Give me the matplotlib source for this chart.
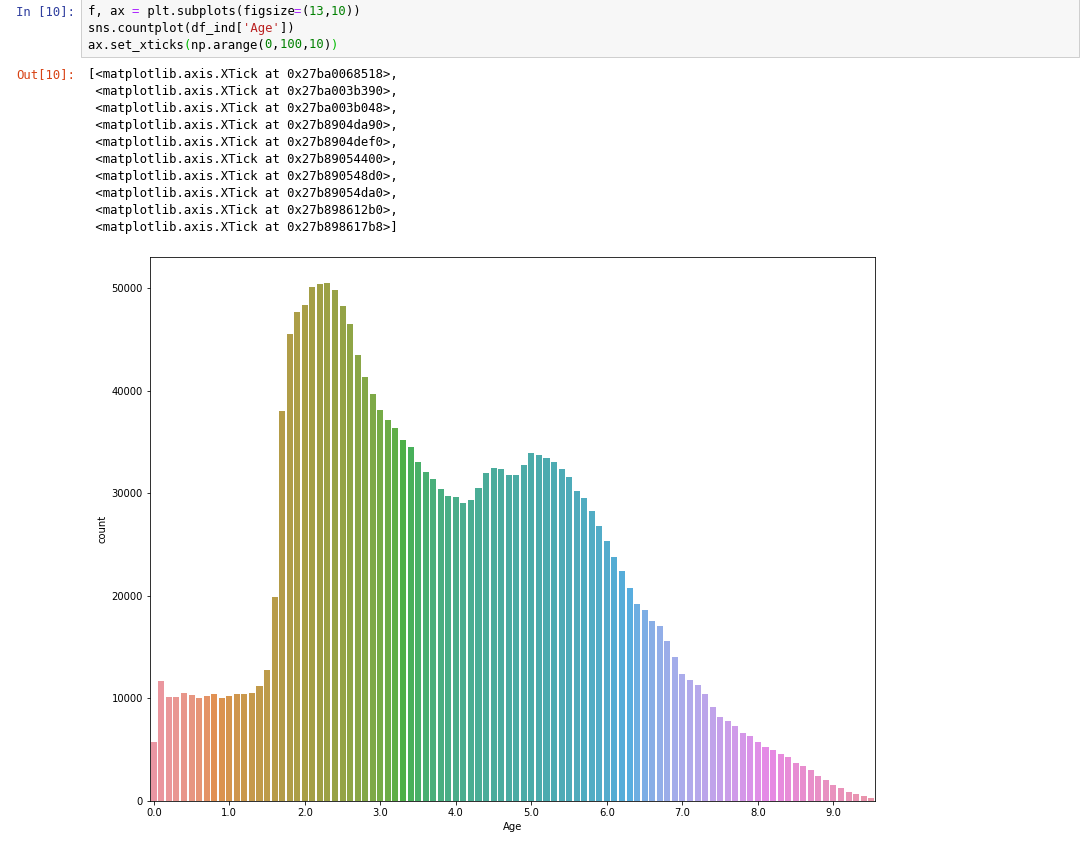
import numpy as np
import matplotlib
matplotlib.use("Agg")
import matplotlib.pyplot as plt
import seaborn as sns

# Age categories (countplot bars) and counts
ages = np.arange(0, 96)
counts = [5750, 11700, 10170, 10170, 10540, 10340, 10080, 10280, 10470, 10080,
          10280, 10440, 10440, 10540, 11250, 12810, 19900, 38030, 45540, 47690,
          48370, 50130, 50420, 50520, 49840, 48280, 46520, 43500, 41350, 39700,
          38130, 37150, 36370, 35200, 34520, 33050, 32080, 31400, 30420, 29740,
          29640, 29050, 29350, 30520, 31980, 32470, 32370, 31780, 31780, 32760,
          33930, 33730, 33440, 33050, 32370, 31590, 30220, 29540, 28270, 26800,
          25340, 23780, 22420, 20760, 19200, 18620, 17540, 17060, 15590, 14030,
          12380, 11790, 11310, 10430, 9170, 8190, 7800, 7310, 6630, 6340,
          5750, 5260, 4970, 4580, 4290, 3700, 3410, 3020, 2440, 2050,
          1560, 1270, 880, 680, 480, 290]
tick_pos = [0, 10, 20, 30, 40, 50, 60, 70, 80, 90]
tick_labels = ["0.0", "1.0", "2.0", "3.0", "4.0", "5.0", "6.0", "7.0", "8.0", "9.0"]

W, H = 1089, 844
fig = plt.figure(figsize=(W / 72, H / 72), dpi=72)

def px(x, y):
    return x / W, 1 - y / H

mono = "DejaVu Sans Mono"
fs = 12.2

# real (hinted) monospace advance
renderer = fig.canvas.get_renderer()
def text_w(s):
    t = fig.text(0, 0, s, family=mono, fontsize=fs)
    w = t.get_window_extent(renderer).width
    t.remove()
    return w
adv = (text_w("x" * 81) - text_w("x")) / 80

# code cell box
box = plt.Rectangle(px(81, 57), (1079 - 81) / W, 58 / H, transform=fig.transFigure,
                    facecolor="#f7f7f7", edgecolor="#cfcfcf", lw=1)
fig.patches.append(box)

def code_line(x0, y, parts):
    # a trailing space makes each piece lay out from its pen origin
    k = 0
    for s, c in parts:
        fig.text(*px(x0 + k * adv, y), s + " ", family=mono, fontsize=fs,
                 color=c, va="baseline")
        k += len(s)

blk, pur, grn, red, hl = "#000000", "#AA22FF", "#008000", "#BA2121", "#00bb00"
fig.text(*px(16, 15), "In [10]:", family=mono, fontsize=fs, color="#303F9F", va="baseline")
code_line(88, 15, [("f, ax ", blk), ("=", pur), (" plt.subplots(figsize", blk), ("=", pur),
                   ("(", blk), ("13", grn), (",", blk), ("10", grn), ("))", blk)])
code_line(88, 31.7, [("sns.countplot(df_ind[", blk), ("'Age'", red), ("])", blk)])
code_line(88, 48.5, [("ax.set_xticks", blk), ("(", hl), ("np.arange(", blk), ("0", grn), (",", blk),
                     ("100", grn), (",", blk), ("10", grn), (")", blk), (")", hl)])

fig.text(*px(16, 78), "Out[10]:", family=mono, fontsize=fs, color="#D84315", va="baseline")
addrs = ["0x27ba0068518", "0x27ba003b390", "0x27ba003b048", "0x27b8904da90", "0x27b8904def0",
         "0x27b89054400", "0x27b890548d0", "0x27b89054da0", "0x27b898612b0", "0x27b898617b8"]
for i, a in enumerate(addrs):
    pre = "[" if i == 0 else " "
    post = "]" if i == len(addrs) - 1 else ","
    fig.text(*px(88, 78 + 17 * i), pre + "<matplotlib.axis.XTick at " + a + ">" + post,
             family=mono, fontsize=fs, color="black", va="baseline")

# the countplot
l, r, t, b = 150, 875, 257, 801
ax = fig.add_axes([l / W, (H - b) / H, (r - l) / W, (b - t) / H])
colors = [sns.desaturate(c, 0.75) for c in sns.husl_palette(len(ages), l=.7)]
ax.bar(ages, counts, width=0.8, color=colors)
ax.set_xlim(-0.5, len(ages) - 0.5)
ax.set_xticks(tick_pos)
ax.set_xticklabels(tick_labels)
ax.set_xlabel("Age")
ax.set_ylabel("count")

fig.savefig("out.png", dpi=72)
